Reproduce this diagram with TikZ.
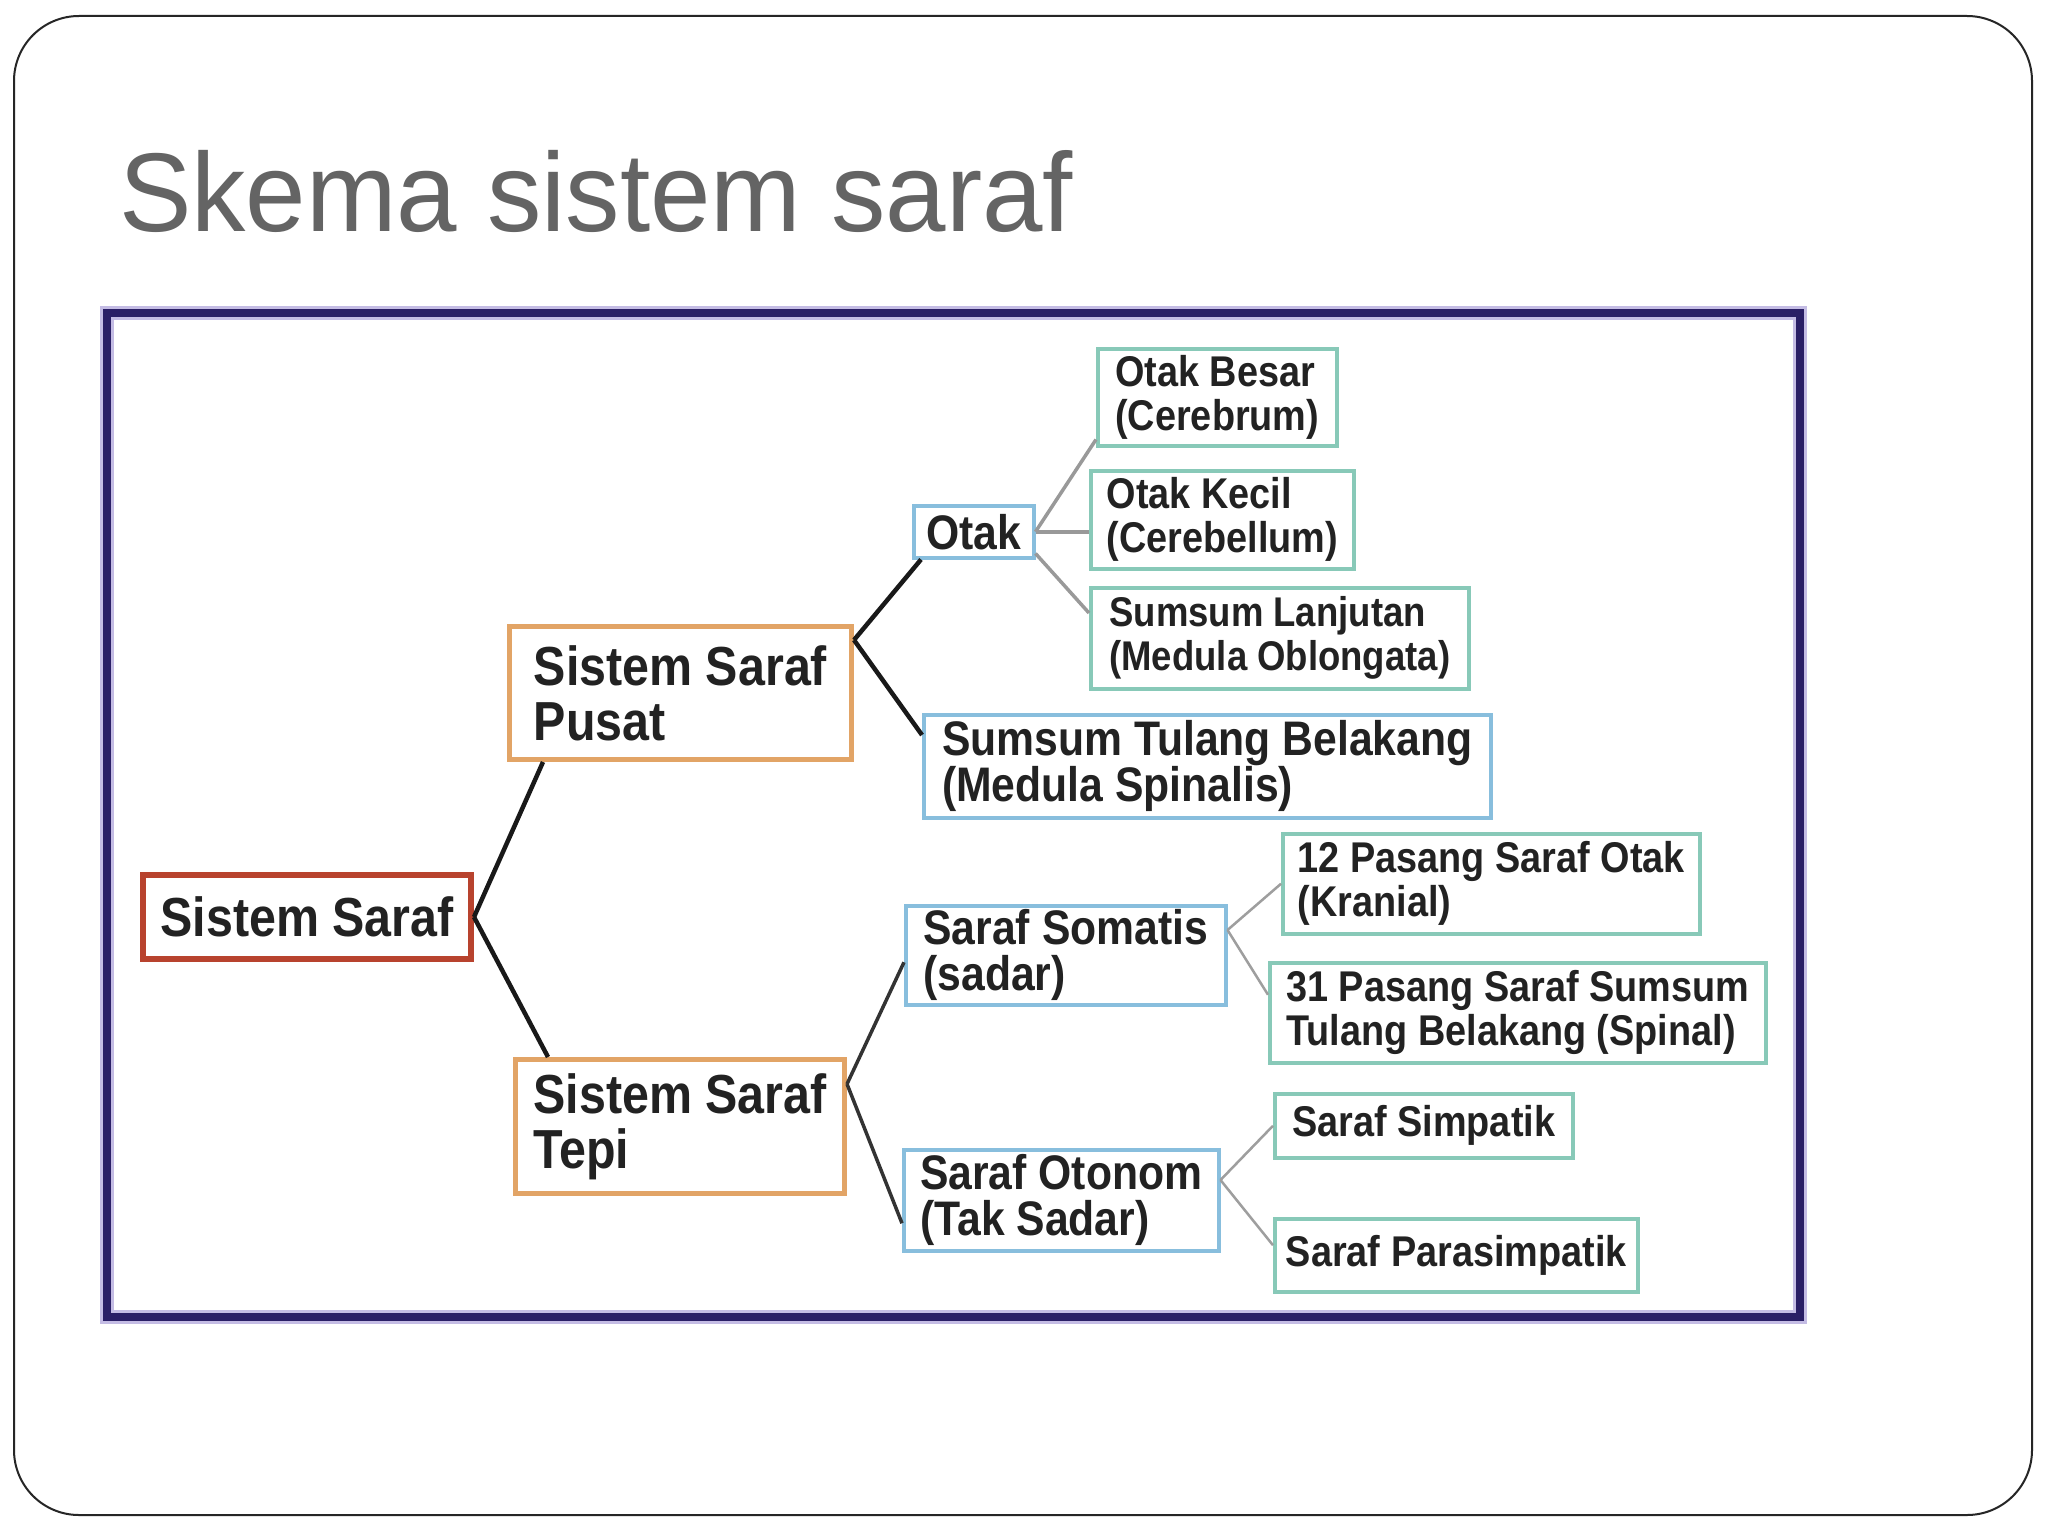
\documentclass[tikz,border=0pt]{standalone}
\usepackage{fontspec}
\usetikzlibrary{calc}
\newfontfamily\dgfont{Liberation Sans}[FakeStretch=0.88]
\newfontfamily\ttlfont{Liberation Sans}[FakeStretch=0.97]
\definecolor{ttlgray}{HTML}{646464}
\definecolor{navy}{HTML}{2A1F66}
\definecolor{lav}{HTML}{C4BCE4}
\definecolor{redb}{HTML}{B8432E}
\definecolor{orb}{HTML}{E2A466}
\definecolor{blueb}{HTML}{88BEDD}
\definecolor{tealb}{HTML}{88C9B8}
\definecolor{txt}{HTML}{222222}
\tikzset{
  box/.style={rectangle, draw, fill=white, anchor=north west, align=left, inner ysep=0pt, inner xsep=4pt, text=txt},
  lone/.style={box, draw=redb, line width=6pt, font=\dgfont\bfseries\fontsize{55}{55}\selectfont},
  ltwo/.style={box, draw=orb, line width=5pt, font=\dgfont\bfseries\fontsize{55}{55}\selectfont},
  lthree/.style={box, draw=blueb, line width=3.5pt, font=\dgfont\bfseries\fontsize{48.5}{46}\selectfont},
  lfour/.style={box, draw=tealb, line width=3.5pt, font=\dgfont\bfseries\fontsize{43}{44}\selectfont},
  mainln/.style={draw=black!90, line width=4.5pt},
  tepiln/.style={draw=black!80, line width=3.5pt},
  grayln/.style={draw=black!40, line width=3.5pt},
  thinln/.style={draw=black!38, line width=2.5pt}
}
\begin{document}
\begin{tikzpicture}[x=1pt,y=-1pt]
\useasboundingbox (0,0) rectangle (2048,1536);
\fill[white] (0,0) rectangle (2048,1536);
% slide frame
\draw[black!85, line width=2pt, rounded corners=65pt] (14,16) rectangle (2032,1515);
% title
\node[anchor=base west, inner sep=0pt, text=ttlgray, font=\ttlfont\fontsize{112}{112}\selectfont] (title) at (119,231) {Skema sistem saraf};
% diagram frame
\draw[lav, line width=14pt] (107,313) rectangle (1800,1317);
\draw[navy, line width=8pt] (107,313) rectangle (1800,1317);

% nodes
\node[lone, minimum width=328pt, minimum height=84pt] (root) at (140,872) {Sistem Saraf};
\node[ltwo, minimum width=342pt, minimum height=133pt] (pusat) at (507,624) {Sistem Saraf\\Pusat};
\node[ltwo, minimum width=329pt, minimum height=134pt] (tepi) at (513,1057) {Sistem Saraf\\Tepi};

\node[lthree, minimum width=120pt, minimum height=52pt] (otak) at (912,504) {Otak};
\node[lthree, minimum width=567pt, minimum height=103pt] (stb) at (922,713) {Sumsum Tulang Belakang\\(Medula Spinalis)};
\node[lthree, minimum width=320pt, minimum height=99pt] (som) at (904,904) {Saraf Somatis\\(sadar)};
\node[lthree, minimum width=315pt, minimum height=101pt] (oto) at (902,1148) {Saraf Otonom\\(Tak Sadar)};

\node[lfour, minimum width=239pt, minimum height=97pt] (ob) at (1096,347) {Otak Besar\\(Cerebrum)};
\node[lfour, minimum width=263pt, minimum height=98pt] (ok) at (1089,469) {Otak Kecil\\(Cerebellum)};
\node[lfour, minimum width=378pt, minimum height=101pt, font=\dgfont\bfseries\fontsize{41.5}{44}\selectfont] (sl) at (1089,586) {Sumsum Lanjutan\\(Medula Oblongata)};
\node[lfour, minimum width=417pt, minimum height=100pt] (p12) at (1281,832) {12 Pasang Saraf Otak\\(Kranial)};
\node[lfour, minimum width=496pt, minimum height=100pt] (p31) at (1268,961) {31 Pasang Saraf Sumsum\\Tulang Belakang (Spinal)};
\node[lfour, minimum width=298pt, minimum height=64pt] (simp) at (1273,1092) {Saraf Simpatik};
\node[lfour, minimum width=363pt, minimum height=73pt] (para) at (1273,1217) {Saraf Parasimpatik};

% connectors
\draw[mainln] (root.east) -- ($(pusat.south west)+(36,0)$);
\draw[mainln] (root.east) -- ($(tepi.north west)+(35,0)$);
\draw[mainln] ($(pusat.north east)+(0,16)$) -- ($(otak.south west)+(9,0)$);
\draw[mainln] ($(pusat.north east)+(0,16)$) -- ($(stb.north west)+(0,22)$);
\draw[grayln] (otak.east) -- ($(ob.south west)+(0,-8)$);
\draw[grayln] (otak.east) -- (otak.east -| ok.west);
\draw[grayln] ($(otak.south east)+(0,-6)$) -- ($(sl.north west)+(0,27)$);
\draw[tepiln] ($(tepi.north east)+(0,27)$) -- ($(som.west)+(0,7)$);
\draw[tepiln] ($(tepi.north east)+(0,27)$) -- ($(oto.west)+(0,23)$);
\draw[thinln] ($(som.north east)+(0,26)$) -- (p12.west);
\draw[thinln] ($(som.north east)+(0,26)$) -- ($(p31.west)+(0,-18)$);
\draw[thinln] ($(oto.north east)+(0,32)$) -- (simp.west);
\draw[thinln] ($(oto.north east)+(0,32)$) -- ($(para.west)+(0,-10)$);
\end{tikzpicture}
\end{document}
